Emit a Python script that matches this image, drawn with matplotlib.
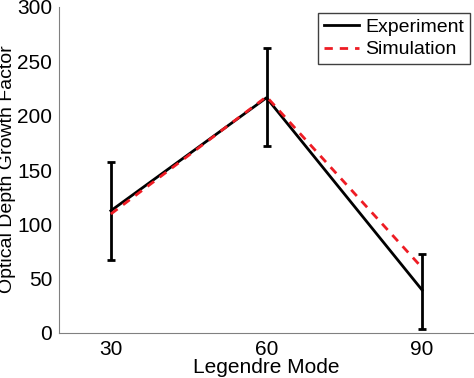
import matplotlib.pyplot as plt
import numpy as np

plt.rcParams['font.family'] = ['Liberation Sans', 'DejaVu Sans']

modes = [30, 60, 90]
experiment = [112.5, 216.5, 39.5]
err_low = [67, 172, 3.5]
err_high = [157, 262, 73]
simulation = [109.5, 217.5, 60]

exp = np.array(experiment)
yerr = [exp - np.array(err_low), np.array(err_high) - exp]

fig = plt.figure(figsize=(4.74, 3.78), dpi=100)
ax = fig.add_axes([59/474, 45/378, 415/474, 326/378])

ax.errorbar(modes, experiment, yerr=yerr, color='black', lw=2, capsize=3,
            capthick=2, fmt='none')
l1, = ax.plot(modes, experiment, color='black', lw=2, label='Experiment')
l2, = ax.plot(modes, simulation, color='#ee1c24', lw=2, ls=(0, (3, 2.5)),
              label='Simulation')

ax.set_xlim(20, 100)
ax.set_ylim(0, 300)
ax.set_xticks(modes)
ax.set_yticks(np.arange(0, 301, 50))
ax.spines['top'].set_visible(False)
ax.spines['right'].set_visible(False)
for s in ['left', 'bottom']:
    ax.spines[s].set_color('#808080')
ax.tick_params(direction='in', length=0, labelsize=15, pad=5)
ax.set_xlabel('Legendre Mode', fontsize=15, labelpad=-1)
fig.text(8/474, 1 - 169/378, 'Optical Depth Growth Factor', fontsize=14,
         rotation=90, ha='center', va='center')

leg = ax.legend([l1, l2], ['Experiment', 'Simulation'], loc='upper right',
                bbox_to_anchor=(0.99, 0.983), fontsize=14, fancybox=False,
                framealpha=1, handlelength=1.8, handletextpad=0.3,
                borderpad=0.3, labelspacing=0.25, borderaxespad=0)
leg.get_frame().set_edgecolor('#404040')

fig.savefig('out.png', dpi=100)
